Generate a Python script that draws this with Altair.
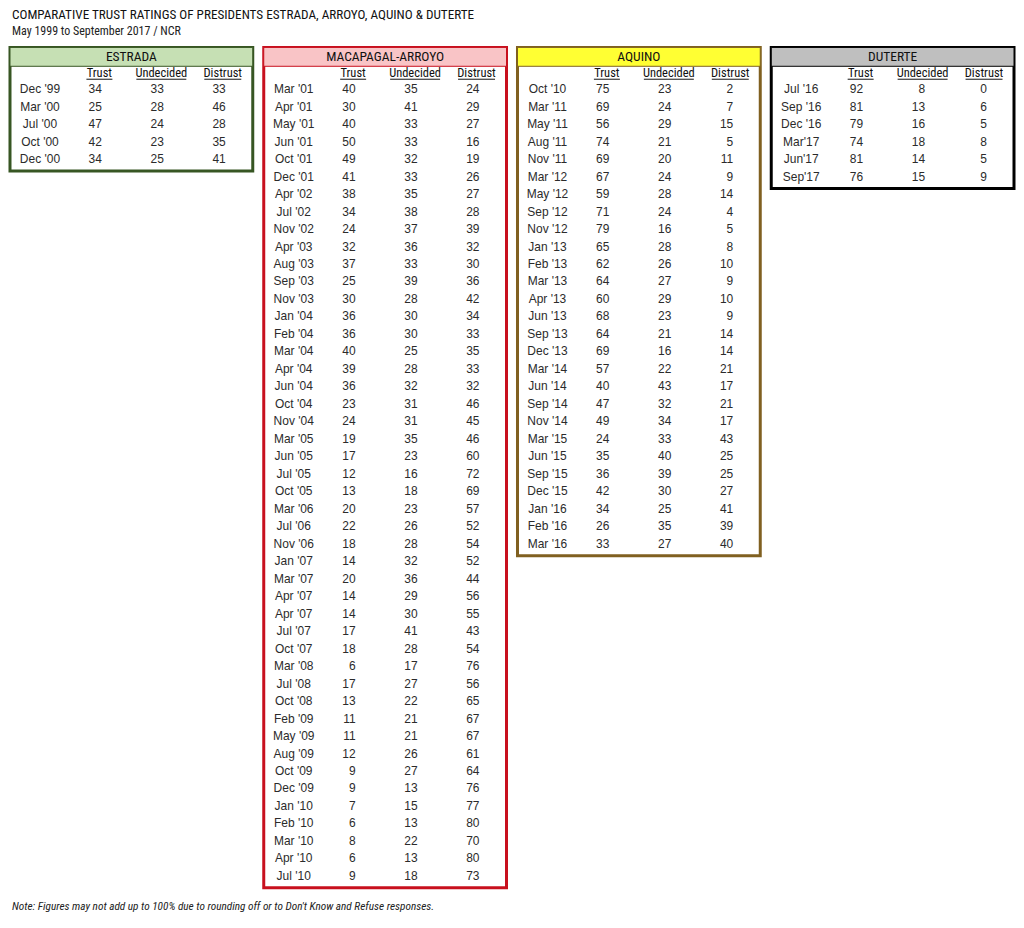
import altair as alt
import pandas as pd

TITLE = "COMPARATIVE TRUST RATINGS OF PRESIDENTS ESTRADA, ARROYO, AQUINO & DUTERTE"
SUBTITLE = "May 1999 to September 2017 / NCR"
NOTE = "Note: Figures may not add up to 100% due to rounding off or to Don't Know and Refuse responses."

columns = ["Trust", "Undecided", "Distrust"]
panel_names = ["ESTRADA", "MACAPAGAL-ARROYO", "AQUINO", "DUTERTE"]

estrada_dates = ["Dec '99", "Mar '00", "Jul '00", "Oct '00", "Dec '00"]
estrada_trust = [34, 25, 47, 42, 34]
estrada_undecided = [33, 28, 24, 23, 25]
estrada_distrust = [33, 46, 28, 35, 41]

arroyo_dates = ["Mar '01", "Apr '01", "May '01", "Jun '01", "Oct '01", "Dec '01",
                "Apr '02", "Jul '02", "Nov '02", "Apr '03", "Aug '03", "Sep '03",
                "Nov '03", "Jan '04", "Feb '04", "Mar '04", "Apr '04", "Jun '04",
                "Oct '04", "Nov '04", "Mar '05", "Jun '05", "Jul '05", "Oct '05",
                "Mar '06", "Jul '06", "Nov '06", "Jan '07", "Mar '07", "Apr '07",
                "Apr '07", "Jul '07", "Oct '07", "Mar '08", "Jul '08", "Oct '08",
                "Feb '09", "May '09", "Aug '09", "Oct '09", "Dec '09", "Jan '10",
                "Feb '10", "Mar '10", "Apr '10", "Jul '10"]
arroyo_trust = [40, 30, 40, 50, 49, 41, 38, 34, 24, 32, 37, 25, 30, 36, 36, 40,
                39, 36, 23, 24, 19, 17, 12, 13, 20, 22, 18, 14, 20, 14, 14, 17,
                18, 6, 17, 13, 11, 11, 12, 9, 9, 7, 6, 8, 6, 9]
arroyo_undecided = [35, 41, 33, 33, 32, 33, 35, 38, 37, 36, 33, 39, 28, 30, 30, 25,
                    28, 32, 31, 31, 35, 23, 16, 18, 23, 26, 28, 32, 36, 29, 30, 41,
                    28, 17, 27, 22, 21, 21, 26, 27, 13, 15, 13, 22, 13, 18]
arroyo_distrust = [24, 29, 27, 16, 19, 26, 27, 28, 39, 32, 30, 36, 42, 34, 33, 35,
                   33, 32, 46, 45, 46, 60, 72, 69, 57, 52, 54, 52, 44, 56, 55, 43,
                   54, 76, 56, 65, 67, 67, 61, 64, 76, 77, 80, 70, 80, 73]

aquino_dates = ["Oct '10", "Mar '11", "May '11", "Aug '11", "Nov '11", "Mar '12",
                "May '12", "Sep '12", "Nov '12", "Jan '13", "Feb '13", "Mar '13",
                "Apr '13", "Jun '13", "Sep '13", "Dec '13", "Mar '14", "Jun '14",
                "Sep '14", "Nov '14", "Mar '15", "Jun '15", "Sep '15", "Dec '15",
                "Jan '16", "Feb '16", "Mar '16"]
aquino_trust = [75, 69, 56, 74, 69, 67, 59, 71, 79, 65, 62, 64, 60, 68, 64, 69,
                57, 40, 47, 49, 24, 35, 36, 42, 34, 26, 33]
aquino_undecided = [23, 24, 29, 21, 20, 24, 28, 24, 16, 28, 26, 27, 29, 23, 21, 16,
                    22, 43, 32, 34, 33, 40, 39, 30, 25, 35, 27]
aquino_distrust = [2, 7, 15, 5, 11, 9, 14, 4, 5, 8, 10, 9, 10, 9, 14, 14,
                   21, 17, 21, 17, 43, 25, 25, 27, 41, 39, 40]

duterte_dates = ["Jul '16", "Sep '16", "Dec '16", "Mar'17", "Jun'17", "Sep'17"]
duterte_trust = [92, 81, 79, 74, 81, 76]
duterte_undecided = [8, 13, 16, 18, 14, 15]
duterte_distrust = [0, 6, 5, 8, 5, 9]

NARROW = '"Liberation Sans Narrow", "Arial Narrow", "Roboto Condensed", "DejaVu Sans Condensed", sans-serif'
REGULAR = '"Liberation Sans", Arial, Roboto, sans-serif'
TEXT_COLOR = "#2b2b2b"

PANEL_W = 243
ROW_H = 17.5
TOP = -2.39
BAND_BOTTOM = -1.31
HEADER_Y = -0.93
UNDERLINE_Y = -0.57
BOTTOM = 0.68

DATE_X = 30
VALUE_X = {"Trust": 92, "Undecided": 154, "Distrust": 216}
HEADER_X = {"Trust": 89.5, "Undecided": 151.5, "Distrust": 213}
UNDERLINE_W = {"Trust": 26, "Undecided": 50, "Distrust": 37}

STYLES = {
    "ESTRADA": ("#375623", "#c6e0b4"),
    "MACAPAGAL-ARROYO": ("#c8101e", "#f9c4c6"),
    "AQUINO": ("#806020", "#ffff33"),
    "DUTERTE": ("#000000", "#bfbfbf"),
}


def panel(name, dates, trust, undecided, distrust):
    n = len(dates)
    border, band_fill = STYLES[name]
    df = pd.DataFrame({"row": list(range(n)), "date": dates, "Trust": trust,
                       "Undecided": undecided, "Distrust": distrust})
    one = pd.DataFrame({"name": [name]})
    hdr = pd.DataFrame({"col": columns})
    height = (n - 1 + BOTTOM - TOP) * ROW_H
    xs = alt.Scale(domain=[0, PANEL_W], nice=False, zero=False)
    ys = alt.Scale(domain=[TOP, n - 1 + BOTTOM], reverse=True, nice=False, zero=False)

    def X(f):
        return alt.X(f"{f}:Q", scale=xs, axis=None)

    def Y(f):
        return alt.Y(f"{f}:Q", scale=ys, axis=None)

    layers = []
    layers.append(
        alt.Chart(one).mark_rect(fill=band_fill, stroke=border, strokeWidth=1)
        .transform_calculate(x0="0", x1=str(PANEL_W), y0=str(TOP), y1=str(BAND_BOTTOM))
        .encode(x=X("x0"), x2="x1:Q", y=Y("y0"), y2="y1:Q")
    )
    layers.append(
        alt.Chart(one).mark_text(font=NARROW, fontSize=13.5, color="#111111", baseline="middle")
        .transform_calculate(xc=str(PANEL_W / 2), yc=str((TOP + BAND_BOTTOM) / 2))
        .encode(x=X("xc"), y=Y("yc"), text="name:N")
    )
    hx = "{" + ",".join(f"'{c}':{HEADER_X[c]}" for c in columns) + "}"
    hw = "{" + ",".join(f"'{c}':{UNDERLINE_W[c]}" for c in columns) + "}"
    hdr_base = alt.Chart(hdr).transform_calculate(
        xc=f"{hx}[datum.col]",
        xl=f"{hx}[datum.col] - {hw}[datum.col] / 2",
        xr=f"{hx}[datum.col] + {hw}[datum.col] / 2",
        yh=str(HEADER_Y), yu=str(UNDERLINE_Y),
    )
    layers.append(
        hdr_base.mark_text(font=NARROW, fontSize=12.5, color="#111111", baseline="middle")
        .encode(x=X("xc"), y=Y("yh"), text="col:N")
    )
    layers.append(
        hdr_base.mark_rule(color="#111111", strokeWidth=1)
        .encode(x=X("xl"), x2="xr:Q", y=Y("yu"))
    )
    layers.append(
        alt.Chart(df).mark_text(font=REGULAR, fontSize=12, color=TEXT_COLOR,
                                baseline="middle", align="center")
        .transform_calculate(xd=str(DATE_X))
        .encode(x=X("xd"), y=Y("row"), text="date:N")
    )
    for c in columns:
        layers.append(
            alt.Chart(df).mark_text(font=REGULAR, fontSize=12, color=TEXT_COLOR,
                                    baseline="middle", align="right")
            .transform_calculate(xv=str(VALUE_X[c]))
            .encode(x=X("xv"), y=Y("row"), text=alt.Text(f"{c}:Q"))
        )
    return alt.layer(*layers).properties(
        width=PANEL_W, height=height,
        view=alt.ViewBackground(stroke=border, strokeWidth=3, fill="white"),
    )


panels = alt.hconcat(
    panel(panel_names[0], estrada_dates, estrada_trust, estrada_undecided, estrada_distrust),
    panel(panel_names[1], arroyo_dates, arroyo_trust, arroyo_undecided, arroyo_distrust),
    panel(panel_names[2], aquino_dates, aquino_trust, aquino_undecided, aquino_distrust),
    panel(panel_names[3], duterte_dates, duterte_trust, duterte_undecided, duterte_distrust),
    spacing=7,
)

header = alt.layer(
    alt.Chart(pd.DataFrame({"t": [TITLE]})).mark_text(
        font=NARROW, fontSize=13.2, color="#111111", align="left", baseline="top",
    ).encode(x=alt.value(2), y=alt.value(0), text="t:N"),
    alt.Chart(pd.DataFrame({"t": [SUBTITLE]})).mark_text(
        font=NARROW, fontSize=12, color="#222222", align="left", baseline="top",
    ).encode(x=alt.value(2), y=alt.value(16.5), text="t:N"),
).properties(width=600, height=28, view=alt.ViewBackground(strokeWidth=0))

note = alt.Chart(pd.DataFrame({"note": [NOTE]})).mark_text(
    font=NARROW, fontSize=11.3, fontStyle="italic", color="#222222",
    align="left", baseline="middle",
).encode(
    x=alt.value(2), y=alt.value(9), text="note:N"
).properties(width=600, height=12, view=alt.ViewBackground(strokeWidth=0))

chart = alt.vconcat(header, panels, note, spacing=8).properties(
    padding={"left": 0, "top": 0, "right": 0, "bottom": 0},
).configure_view(strokeWidth=0)

chart.save("out.html", embed_options={"renderer": "svg", "actions": False})
